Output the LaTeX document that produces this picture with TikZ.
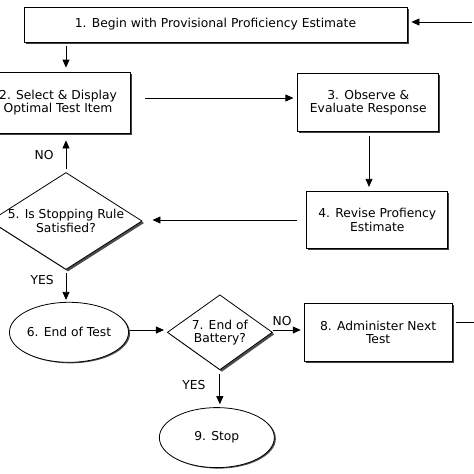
\documentclass[tikz,border=0pt]{standalone}
\usepackage{fontspec}
\setmainfont{DejaVu Sans}
\usetikzlibrary{arrows.meta,shapes.geometric,positioning,shadows}

\tikzset{
  box/.style={draw,thick,fill=white,align=center,inner sep=1pt,
    drop shadow={shadow xshift=1.5pt,shadow yshift=-1.5pt,fill=black!75,opacity=1}},
  decision/.style={draw,fill=white,diamond,align=center,inner sep=0pt,
    drop shadow={shadow xshift=2pt,shadow yshift=-2pt,fill=black!70,opacity=1}},
  term/.style={draw,fill=white,ellipse,align=center,inner sep=0pt,
    minimum width=115pt,minimum height=60pt,
    drop shadow={shadow xshift=1.5pt,shadow yshift=-1pt,fill=black!70,opacity=1}},
  flow/.style={-{Triangle[length=8pt,width=7pt]},shorten >=4pt,shorten <=4pt},
  lbl/.style={inner sep=1pt}
}

\begin{document}
\begin{tikzpicture}[x=1pt,y=-1pt,thick,font=\fontsize{12.3}{13.3}\selectfont]
		\useasboundingbox[fill=white] (0,0) rectangle (474,474);
		% nodes
		\node[box,minimum width=383pt,minimum height=35pt] (1) at (215.5,24.5) {1. Begin with Provisional Proficiency Estimate};
		\node[box,minimum width=144pt,minimum height=61pt] (2) at (58,102.5) {2. Select \& Display\\Optimal Test Item};
		\node[box,minimum width=141pt,minimum height=58pt] (3) [right=167pt of 2] {3. Observe \&\\Evaluate Response};
		\node[box,minimum width=141pt,minimum height=57pt] (4) [below=59pt of 3,xshift=9pt] {4. Revise Profiency\\Estimate};
		\node[decision,shape aspect=1.57,minimum width=152pt,minimum height=97pt] (5) at (66,221) {5. Is Stopping Rule\\Satisfied?};
		\node[term] (6) [below=32pt of 5,xshift=3pt] {6. End of Test};
		\node[decision,shape aspect=1.4,minimum width=105pt,minimum height=75pt] (7) [right=38pt of 6] {7. End of\\Battery?};
		\node[box,minimum width=148pt,minimum height=58pt] (8) [right=31pt of 7] {8. Administer Next\\Test};
		\node[term] (9) [below=37pt of 7,xshift=-3pt] {9. Stop};

		% loose ends at the right border
		\coordinate (in1) at (476,22);
		\coordinate (out8) at (476,322);

		% connectors
		\draw[flow] (in1) -- (1.east |- in1);
		\draw[flow] (1.south -| 5.north) -- (2.north -| 5.north);
		\draw[flow,shorten <=15pt] (2.east |- 0,98) -- (3.west |- 0,98);
		\draw[flow] (3.south -| 369,0) -- (4.north -| 369,0);
		\draw[flow,shorten <=9pt,shorten >=10pt] (4.west |- 0,220) -- (5.east |- 0,220);
		\draw[flow,shorten >=7pt,shorten <=3pt] (5.north) -- (2.south -| 5.north)
			node[lbl,pos=0.45,left=11pt] {NO};
		\draw[flow,shorten >=2pt,shorten <=3pt] (5.south) -- (6.north -| 5.south)
			node[lbl,pos=0.31,left=11pt] {YES};
		\draw[flow,shorten <=1pt,shorten >=3pt] (6.east |- 0,330) -- (7.west |- 0,330);
		\draw[flow,shorten <=0pt,shorten >=3pt] (7.east |- 0,330) -- (8.west |- 0,330)
			node[lbl,pos=0.3,above=3pt] {NO};
		\draw[flow,shorten >=3pt] (7.south) -- (9.north -| 7.south)
			node[lbl,pos=0.4,left=13pt] {YES};
		\draw[shorten <=3pt] (8.east |- out8) -- (out8);
\end{tikzpicture}
\end{document}
